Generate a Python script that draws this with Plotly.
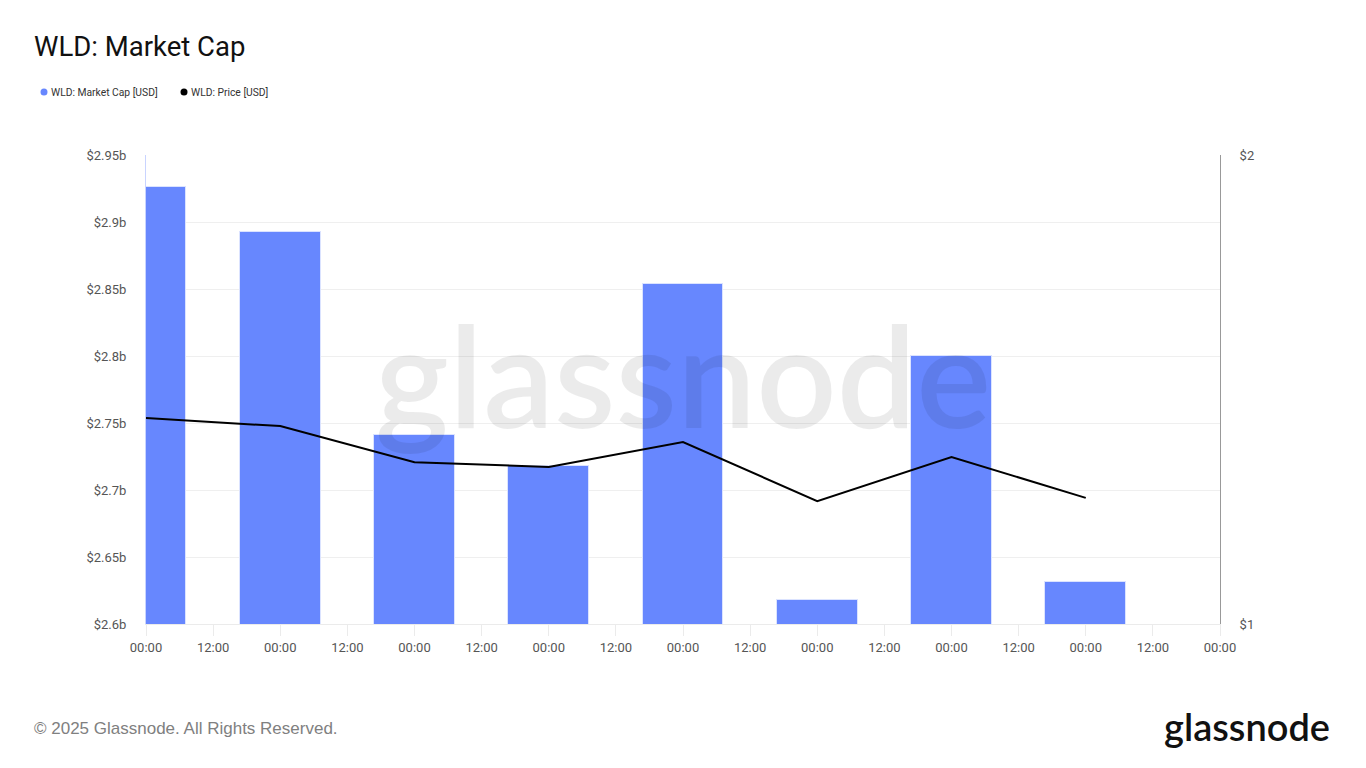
import plotly.graph_objects as go

dates = ["2025-01-01", "2025-01-02", "2025-01-03", "2025-01-04",
         "2025-01-05", "2025-01-06", "2025-01-07", "2025-01-08"]
market_cap = [2.926e9, 2.8925e9, 2.741e9, 2.718e9, 2.854e9, 2.618e9, 2.800e9, 2.631e9]
price = [1.439, 1.422, 1.345, 1.335, 1.388, 1.262, 1.356, 1.269]

left_ticks = [2.6e9, 2.65e9, 2.7e9, 2.75e9, 2.8e9, 2.85e9, 2.9e9, 2.95e9]
left_labels = ["$2.6b", "$2.65b", "$2.7b", "$2.75b", "$2.8b", "$2.85b", "$2.9b", "$2.95b"]
right_ticks = [1, 2]
right_labels = ["$1", "$2"]

BAR = "#6787fe"
FONT = "Roboto"

fig = go.Figure()
fig.add_trace(go.Bar(
    x=dates, y=market_cap, name="WLD: Market Cap [USD]",
    marker=dict(color=BAR, line=dict(color="#dbe3ff", width=1)),
    width=0.6 * 86400000, yaxis="y", showlegend=False,
))
fig.add_trace(go.Scatter(
    x=dates, y=price, name="WLD: Price [USD]", mode="lines",
    line=dict(color="#000000", width=2), yaxis="y2", showlegend=False,
))

fig.update_layout(
    width=1366, height=768,
    margin=dict(l=146, r=146, t=155, b=144),
    paper_bgcolor="white", plot_bgcolor="white",
    font=dict(family=FONT, size=13, color="#555555"),
    bargap=0,
    xaxis=dict(
        type="date", range=["2025-01-01", "2025-01-09"],
        dtick=43200000, tick0="2025-01-01", tickformat="%H:%M",
        showgrid=False, showline=True, linecolor="#ebebeb", linewidth=1,
        ticks="outside", ticklen=11, tickcolor="#ebebeb",
        tickfont=dict(size=13, color="#555555"),
        zeroline=False,
    ),
    yaxis=dict(
        range=[2.6e9, 2.95e9], tickvals=left_ticks, ticktext=left_labels,
        showgrid=True, gridcolor="#efefef", gridwidth=1,
        showline=True, linecolor="#c9d4ff", linewidth=1,
        ticks="outside", ticklen=16, tickcolor="rgba(0,0,0,0)",
        tickfont=dict(size=13, color="#555555"), zeroline=False,
    ),
    yaxis2=dict(
        range=[1, 2], tickvals=right_ticks, ticktext=right_labels,
        overlaying="y", side="right", showgrid=False,
        showline=True, linecolor="#999999", linewidth=1,
        ticks="outside", ticklen=16, tickcolor="rgba(0,0,0,0)",
        tickfont=dict(size=13, color="#555555"), zeroline=False,
    ),
    title=dict(text="WLD: Market Cap", x=34 / 1366, xanchor="left",
               y=1 - 46 / 768, yanchor="middle",
               font=dict(family=FONT, size=27.5, color="#111111")),
)

annotations = [
    dict(text="glassnode", xref="paper", yref="paper", x=0.5, y=0.535,
         xanchor="center", yanchor="middle", showarrow=False,
         font=dict(family="Lato", size=141, weight=600, color="rgba(0,0,0,0.08)")),
    dict(text="WLD: Market Cap [USD]", xref="paper", yref="paper",
         x=(49 - 146) / 1074, y=(624 - 92) / 469, xanchor="left", yanchor="middle",
         showarrow=False, font=dict(family=FONT, size=10.3, color="#333333")),
    dict(text="WLD: Price [USD]", xref="paper", yref="paper",
         x=(189 - 146) / 1074, y=(624 - 92) / 469, xanchor="left", yanchor="middle",
         showarrow=False, font=dict(family=FONT, size=10.3, color="#333333")),
    dict(text="© 2025 Glassnode. All Rights Reserved.", xref="paper", yref="paper",
         x=(32 - 146) / 1074, y=(624 - 728) / 469, xanchor="left", yanchor="middle",
         showarrow=False, font=dict(family="Liberation Sans", size=17, color="#808080")),
    dict(text="glassnode", xref="paper", yref="paper",
         x=(1332 - 146) / 1074, y=(624 - 726) / 469, xanchor="right", yanchor="middle",
         showarrow=False, font=dict(family="Lato", size=38, weight=600, color="#111111")),
]
fig.update_layout(annotations=annotations)

shapes = []
for cx, col in [(44, BAR), (184, "#000000")]:
    shapes.append(dict(type="circle", xref="paper", yref="paper",
                       xsizemode="pixel", ysizemode="pixel",
                       xanchor=(cx - 146) / 1074, yanchor=(624 - 92) / 469,
                       x0=-3.5, x1=3.5, y0=-3.5, y1=3.5,
                       fillcolor=col, line=dict(width=0)))
fig.update_layout(shapes=shapes)

fig.write_html("out.html", config={"displayModeBar": False},
               post_script="document.body.style.margin='0';document.body.style.padding='0';")
